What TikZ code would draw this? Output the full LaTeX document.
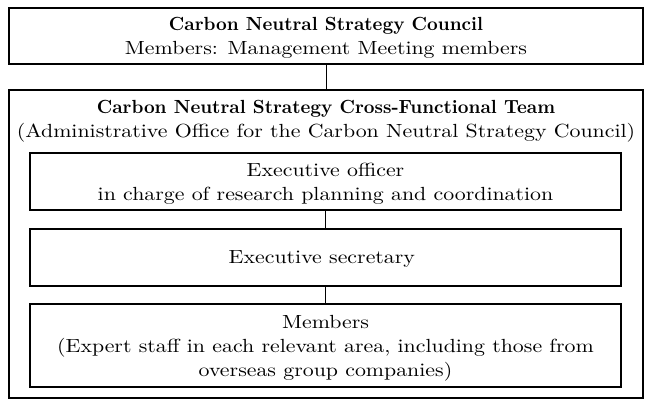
\documentclass[tikz,border=0pt]{standalone}
\usepackage{fontspec}
\setmainfont{lmroman10-regular.otf}[
  FakeStretch=1.15,
  BoldFont=lmroman10-bold.otf,
  BoldFeatures={FakeStretch=0.98}]
\usepackage{tikz}
\usetikzlibrary{positioning}

\begin{document}
\begin{tikzpicture}[
  x=1pt, y=-1pt,
  obox/.style={draw, line width=1.6pt, minimum width=634pt, inner sep=0pt, align=center},
  ibox/.style={draw, line width=1.6pt, minimum width=591pt, inner sep=0pt, align=center},
  every node/.append style={font=\fontsize{19}{24}\selectfont, text depth=0pt}
]
  \useasboundingbox (0,0) rectangle (652,408);
  \node[obox, minimum height=56pt] (council) at (326, 36) {
    \textbf{Carbon Neutral Strategy Council}\\
    Members: Management Meeting members
  };
  \node[obox, minimum height=308pt] (team) at (326, 244) {};
  \node[align=center, inner sep=0pt] (teamtitle) at (326, 119) {
    \textbf{Carbon Neutral Strategy Cross-Functional Team}\\
    (Administrative Office for the Carbon Neutral Strategy Council)
  };
  \node[ibox, minimum height=57pt] (officer) at (325.5, 181.5) {
    Executive officer\\
    in charge of research planning and coordination
  };
  \node[ibox, minimum height=57pt] (secretary) at (325.5, 257.5) {
    Executive secretary
  };
  \node[ibox, minimum height=83pt] (members) at (325.5, 345.5) {
    Members\\
    (Expert staff in each relevant area, including those from\\
    overseas group companies)
  };
  \draw[line width=0.8pt] (council.south) -- (team.north);
  \draw[line width=0.8pt] (officer.south) -- (secretary.north);
  \draw[line width=0.8pt] (secretary.south) -- (members.north);
\end{tikzpicture}
\end{document}
